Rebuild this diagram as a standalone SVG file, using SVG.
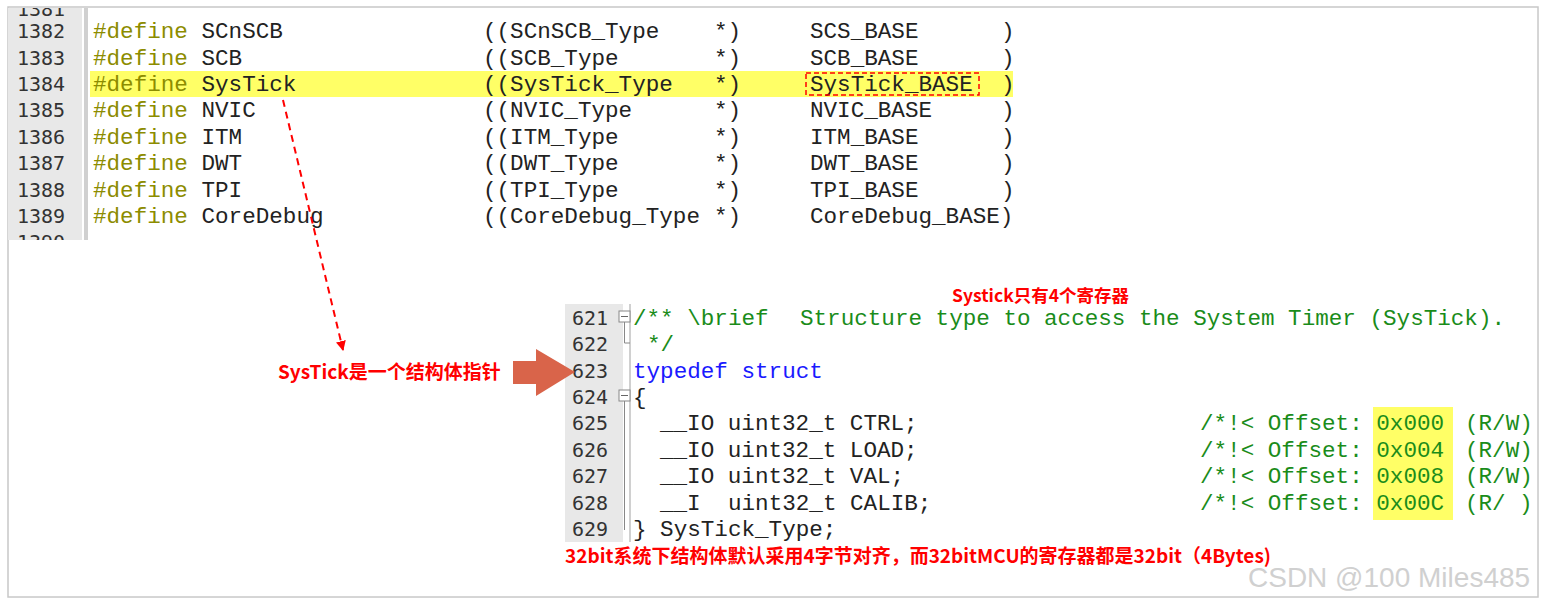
<svg xmlns="http://www.w3.org/2000/svg" width="1548" height="604" viewBox="0 0 1548 604">
<style>
.m{font-family:"Liberation Mono","DejaVu Sans Mono",monospace;font-size:22.6px;fill:#222}
.ln{font-family:"DejaVu Sans Mono","Liberation Mono",monospace;font-size:20px;fill:#333}
.kw{fill:#8c8c00}
.cm{fill:#1a8c1a}
.bl{fill:#1a1aff}
.red{font-family:"Noto Sans CJK SC","Noto Sans",sans-serif;font-weight:bold;fill:#ff0000}
</style>
<defs>
<clipPath id="top"><rect x="8" y="8" width="1530" height="232"/></clipPath>
<marker id="ah" viewBox="0 0 10 10" refX="9" refY="5" markerWidth="5" markerHeight="5" orient="auto"><path d="M0,0L10,5L0,10z" fill="#ff0000"/></marker>
</defs>
<rect width="1548" height="604" fill="#fff"/>
<rect x="8" y="7" width="1530" height="590" fill="#fff" stroke="#c8c8c8" stroke-width="1.5"/>
<g id="top-panel" clip-path="url(#top)">
<rect x="8" y="8" width="74" height="232" fill="#e8e8e8"/>
<line x1="86" y1="8" x2="86" y2="240" stroke="#d0d0d0" stroke-width="4"/>
<rect x="90" y="71" width="923" height="26" fill="#ffff66"/>
<g class="ln">
<text x="17" y="16">1381</text><text x="17" y="38">1382</text><text x="17" y="65">1383</text><text x="17" y="91">1384</text><text x="17" y="117">1385</text><text x="17" y="144">1386</text><text x="17" y="170">1387</text><text x="17" y="197">1388</text><text x="17" y="223">1389</text><text x="17" y="249">1390</text>
</g>
<g class="m">
<text x="93" y="38"><tspan class="kw">#define</tspan> SCnSCB</text><text x="483" y="38">((SCnSCB_Type</text><text x="714" y="38">*)</text><text x="810" y="38">SCS_BASE</text><text x="1001" y="38">)</text>
<text x="93" y="65"><tspan class="kw">#define</tspan> SCB</text><text x="483" y="65">((SCB_Type</text><text x="714" y="65">*)</text><text x="810" y="65">SCB_BASE</text><text x="1001" y="65">)</text>
<text x="93" y="91"><tspan class="kw">#define</tspan> SysTick</text><text x="483" y="91">((SysTick_Type</text><text x="714" y="91">*)</text><text x="810" y="91">SysTick_BASE</text><text x="1001" y="91">)</text>
<text x="93" y="117"><tspan class="kw">#define</tspan> NVIC</text><text x="483" y="117">((NVIC_Type</text><text x="714" y="117">*)</text><text x="810" y="117">NVIC_BASE</text><text x="1001" y="117">)</text>
<text x="93" y="144"><tspan class="kw">#define</tspan> ITM</text><text x="483" y="144">((ITM_Type</text><text x="714" y="144">*)</text><text x="810" y="144">ITM_BASE</text><text x="1001" y="144">)</text>
<text x="93" y="170"><tspan class="kw">#define</tspan> DWT</text><text x="483" y="170">((DWT_Type</text><text x="714" y="170">*)</text><text x="810" y="170">DWT_BASE</text><text x="1001" y="170">)</text>
<text x="93" y="197"><tspan class="kw">#define</tspan> TPI</text><text x="483" y="197">((TPI_Type</text><text x="714" y="197">*)</text><text x="810" y="197">TPI_BASE</text><text x="1001" y="197">)</text>
<text x="93" y="223"><tspan class="kw">#define</tspan> CoreDebug</text><text x="483" y="223">((CoreDebug_Type</text><text x="714" y="223">*)</text><text x="810" y="223">CoreDebug_BASE)</text>
</g>
<rect x="806" y="73" width="173" height="22" fill="none" stroke="#ff0000" stroke-width="1.5" stroke-dasharray="5,3"/>
</g>
<g id="bottom-panel">
<rect x="565" y="304" width="58" height="238" fill="#e8e8e8"/>
<line x1="630" y1="304" x2="630" y2="542" stroke="#d0d0d0" stroke-width="2"/>
<rect x="619" y="311" width="11" height="11" fill="#fff" stroke="#888"/><line x1="621" y1="316.5" x2="628" y2="316.5" stroke="#666"/>
<line x1="624.5" y1="322" x2="624.5" y2="343" stroke="#888"/><line x1="624.5" y1="343" x2="630" y2="343" stroke="#888"/>
<rect x="619" y="390" width="11" height="11" fill="#fff" stroke="#888"/><line x1="621" y1="395.5" x2="628" y2="395.5" stroke="#666"/>
<line x1="624.5" y1="401" x2="624.5" y2="530" stroke="#888"/>
<rect x="1373" y="407" width="80" height="113" fill="#ffff66"/>
<g class="ln">
<text x="572" y="325">621</text><text x="572" y="351">622</text><text x="572" y="378">623</text><text x="572" y="404">624</text><text x="572" y="430">625</text><text x="572" y="457">626</text><text x="572" y="483">627</text><text x="572" y="510">628</text><text x="572" y="536">629</text>
</g>
<g class="m">
<text y="325" class="m cm"><tspan x="633">/** \brief</tspan><tspan x="800">Structure type to access the System Timer (SysTick).</tspan></text>
<text x="647" y="351" class="m cm">*/</text>
<text x="633" y="378" class="m bl">typedef struct</text>
<text x="633" y="404">{</text>
<text x="660" y="430">__IO uint32_t CTRL;</text>
<text x="660" y="457">__IO uint32_t LOAD;</text>
<text x="660" y="483">__IO uint32_t VAL;</text>
<text y="510"><tspan x="660">__I</tspan><tspan x="728">uint32_t CALIB;</tspan></text>
<text x="633" y="536">} SysTick_Type;</text>
<text y="430" class="m cm"><tspan x="1200">/*!&lt; Offset: 0x000</tspan><tspan x="1465">(R/W)</tspan></text>
<text y="457" class="m cm"><tspan x="1200">/*!&lt; Offset: 0x004</tspan><tspan x="1465">(R/W)</tspan></text>
<text y="483" class="m cm"><tspan x="1200">/*!&lt; Offset: 0x008</tspan><tspan x="1465">(R/W)</tspan></text>
<text y="510" class="m cm"><tspan x="1200">/*!&lt; Offset: 0x00C</tspan><tspan x="1465">(R/</tspan><tspan x="1519">)</tspan></text>
</g>
</g>
<g id="connectors">
<line x1="283" y1="100" x2="343" y2="350" stroke="#ff0000" stroke-width="2" stroke-dasharray="7,5" marker-end="url(#ah)"/>
<path d="M513,361H536V349L575,372L536,396V384H513z" fill="#d9644a"/>
</g>
<g id="labels">
<text class="red" x="278" y="379" font-size="19">SysTick是一个结构体指针</text>
<text class="red" x="952" y="302" font-size="17.5">Systick只有4个寄存器</text>
<text class="red" x="565" y="563" font-size="19">32bit系统下结构体默认采用4字节对齐，而32bitMCU的寄存器都是32bit（4Bytes)</text>
<text x="1248" y="587" font-family="Liberation Sans,Arial,sans-serif" font-size="28" fill="#d0d0d0">CSDN @100 Miles485</text>
</g>
</svg>
